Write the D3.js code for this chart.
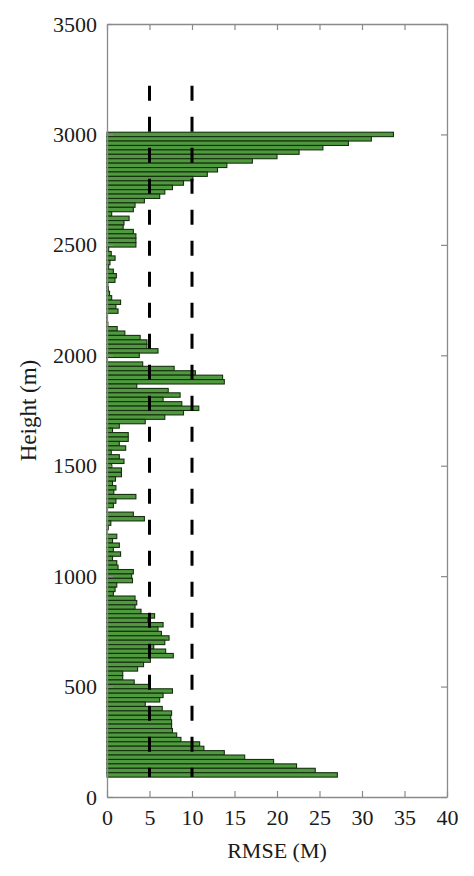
<!DOCTYPE html>
<html>
<head>
<meta charset="utf-8">
<script src="https://cdn.jsdelivr.net/npm/d3@7"></script>
<style>
  body { margin: 0; background: #fff; }
  svg text { font-family: "Times New Roman", "Liberation Serif", "DejaVu Serif", Times, serif; }
</style>
</head>
<body>
<svg id="chart" width="474" height="876" font-family="Liberation Serif, DejaVu Serif, serif"></svg>
<script>
// Heights of each layer (m), top to bottom
var heights = [
  3000, 2980, 2960, 2940, 2920, 2900, 2880, 2860, 2840, 2820,
  2800, 2780, 2760, 2740, 2720, 2700, 2680, 2660, 2640, 2620,
  2600, 2580, 2560, 2540, 2520, 2500, 2480, 2460, 2440, 2420,
  2400, 2380, 2360, 2340, 2320, 2300, 2280, 2260, 2240, 2220,
  2200, 2180, 2160, 2140, 2120, 2100, 2080, 2060, 2040, 2020,
  2000, 1980, 1960, 1940, 1920, 1900, 1880, 1860, 1840, 1820,
  1800, 1780, 1760, 1740, 1720, 1700, 1680, 1660, 1640, 1620,
  1600, 1580, 1560, 1540, 1520, 1500, 1480, 1460, 1440, 1420,
  1400, 1380, 1360, 1340, 1320, 1300, 1280, 1260, 1240, 1220,
  1200, 1180, 1160, 1140, 1120, 1100, 1080, 1060, 1040, 1020,
  1000, 980, 960, 940, 920, 900, 880, 860, 840, 820,
  800, 780, 760, 740, 720, 700, 680, 660, 640, 620,
  600, 580, 560, 540, 520, 500, 480, 460, 440, 420,
  400, 380, 360, 340, 320, 300, 280, 260, 240, 220,
  200, 180, 160, 140, 120, 100
];

// RMSE at each height, same order as heights
var rmse = [
  33.7, 31.1, 28.4, 25.4, 22.6, 20.0, 17.1, 14.1, 13.0, 11.8,
  10.1, 9.0, 7.7, 6.8, 6.2, 4.4, 3.3, 3.1, 0.55, 2.6,
  2.0, 1.9, 3.1, 3.4, 3.4, 3.4, 0.2, 0.5, 0.95, 0.35,
  0.2, 0.75, 1.1, 0.94, 0.1, 0.15, 0.3, 0.55, 1.6, 1.05,
  1.3, 0.05, 0.05, 0.1, 1.2, 2.1, 3.9, 4.7, 4.7, 6.0,
  3.8, 0.05, 4.2, 7.9, 10.4, 13.6, 13.8, 3.5, 7.2, 8.6,
  6.6, 8.8, 10.8, 9.0, 6.8, 4.5, 1.45, 0.65, 2.5, 2.5,
  1.45, 2.2, 0.5, 1.45, 2.0, 0.55, 1.7, 1.7, 1.0, 0.65,
  1.05, 0.8, 3.4, 1.05, 0.75, 0.05, 3.1, 4.4, 0.45, 0.15,
  0.05, 1.15, 0.65, 1.45, 0.75, 1.6, 0.65, 1.15, 1.3, 3.1,
  2.9, 3.0, 1.15, 0.95, 0.75, 3.3, 3.5, 3.3, 4.0, 5.6,
  4.8, 6.6, 6.0, 6.4, 7.3, 6.8, 5.5, 6.9, 7.8, 5.1,
  4.3, 3.6, 1.85, 1.85, 3.2, 5.06, 7.7, 6.6, 6.2, 4.5,
  6.5, 7.6, 7.5, 7.6, 7.6, 7.7, 8.2, 8.7, 10.9, 11.4,
  13.8, 16.2, 19.6, 22.3, 24.5, 27.1
];

var layerStep = 20;                // thickness of one layer (m)
var thresholds = [5, 10];          // dashed reference lines (M)
var thresholdSpan = [90, 3220];    // height range the dashed lines cover (m)
var xTicks = [0, 5, 10, 15, 20, 25, 30, 35, 40];
var yTicks = [0, 500, 1000, 1500, 2000, 2500, 3000, 3500];

var svg = d3.select("#chart"),
  width = +svg.attr("width"),
  height = +svg.attr("height");

var serif = '"Times New Roman", "Liberation Serif", "DejaVu Serif", Times, serif';

var margin = {top: 24, right: 27, bottom: 79, left: 107};
var innerW = width - margin.left - margin.right,
  innerH = height - margin.top - margin.bottom;

var g = svg.append("g")
  .attr("transform", "translate(" + margin.left + "," + margin.top + ")");

var x = d3.scaleLinear().domain([0, 40]).range([0, innerW]);
var y = d3.scaleLinear().domain([0, 3500]).range([innerH, 0]);

var data = heights.map(function (h, i) { return {h: h, v: rmse[i]}; });

// bars
g.append("g")
  .selectAll("rect")
  .data(data)
  .enter()
  .append("rect")
    .attr("x", x(0))
    .attr("y", function (d) { return y(d.h + layerStep / 2); })
    .attr("width", function (d) { return x(d.v) - x(0); })
    .attr("height", function (d) { return y(d.h - layerStep / 2) - y(d.h + layerStep / 2); })
    .attr("fill", "#4f9a3e")
    .attr("stroke", "#16300f")
    .attr("stroke-width", 1.1);

// dashed threshold lines
g.append("g")
  .selectAll("line")
  .data(thresholds)
  .enter()
  .append("line")
    .attr("x1", function (d) { return x(d); })
    .attr("x2", function (d) { return x(d); })
    .attr("y1", y(thresholdSpan[1]))
    .attr("y2", y(thresholdSpan[0]))
    .attr("stroke", "#000")
    .attr("stroke-width", 3)
    .attr("stroke-dasharray", "15,16");

// axes (ticks point inward, box all around)
var axisColor = "#8a8a8a";

var styleAxis = function (sel) {
  sel.attr("font-family", null).attr("font-size", null);
  sel.select(".domain").attr("stroke", axisColor).attr("stroke-width", 1.3);
  sel.selectAll(".tick line").attr("stroke", axisColor).attr("stroke-width", 1.2);
  sel.selectAll("text")
    .attr("fill", "#1a1a1a")
    .style("font-family", serif)
    .style("font-size", "22px");
};

g.append("g")
  .attr("transform", "translate(0," + innerH + ")")
  .call(d3.axisBottom(x).tickValues(xTicks).tickFormat(d3.format("d"))
    .tickSizeInner(-6).tickSizeOuter(0).tickPadding(12))
  .call(styleAxis);

g.append("g")
  .call(d3.axisLeft(y).tickValues(yTicks).tickFormat(d3.format("d"))
    .tickSizeInner(-6).tickSizeOuter(0).tickPadding(10))
  .call(styleAxis);

g.append("g")
  .call(d3.axisTop(x).tickValues(xTicks).tickSizeInner(-6).tickSizeOuter(0).tickFormat(""))
  .call(styleAxis);

g.append("g")
  .attr("transform", "translate(" + innerW + ",0)")
  .call(d3.axisRight(y).tickValues(yTicks).tickSizeInner(-6).tickSizeOuter(0).tickFormat(""))
  .call(styleAxis);

// axis titles
svg.append("text")
  .attr("x", margin.left + innerW / 2)
  .attr("y", 858)
  .attr("text-anchor", "middle")
  .attr("fill", "#1a1a1a")
  .style("font-family", serif)
  .style("font-size", "22px")
  .text("RMSE (M)");

svg.append("text")
  .attr("transform", "translate(36," + (margin.top + innerH / 2) + ") rotate(-90)")
  .attr("text-anchor", "middle")
  .attr("fill", "#1a1a1a")
  .style("font-family", serif)
  .style("font-size", "23px")
  .text("Height (m)");
</script>
</body>
</html>
